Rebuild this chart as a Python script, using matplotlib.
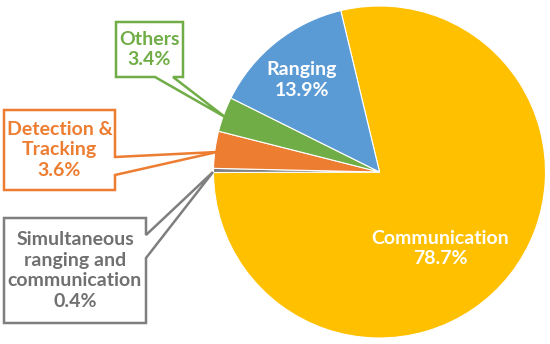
import matplotlib
matplotlib.use('Agg')
import matplotlib.pyplot as plt
from matplotlib.patches import Polygon

# slices, clockwise from the top
categories = ['Communication', 'Simultaneous\nranging and\ncommunication',
              'Detection &\nTracking', 'Others', 'Ranging']
shares = [78.7, 0.4, 3.6, 3.4, 13.9]
colors = ['#FFC000', '#7F7F7F', '#ED7D31', '#70AD47', '#5B9BD5']
text_colors = ['white', '#707070', '#ED7D31', '#70AD47', 'white']

plt.rcParams['font.family'] = ['Lato', 'DejaVu Sans']
FS = 14

fig = plt.figure(figsize=(5.5, 3.44), dpi=100)
ax = fig.add_axes([0, 0, 1, 1])

H = 344
ax.pie(shares, colors=colors, startangle=103.5, counterclock=False,
       center=(379.5, H - 172), radius=166, frame=True,
       wedgeprops=dict(edgecolor='white', linewidth=0.8))
ax.set_xlim(0, 550)
ax.set_ylim(0, 344)
ax.set_aspect('equal')
ax.axis('off')

labels = [f'{c}\n{v}%' for c, v in zip(categories, shares)]

# inside labels
ax.text(440, H - 248.5, labels[0], color=text_colors[0], ha='center', va='center',
        fontsize=FS, fontweight='bold', linespacing=1.25)
ax.text(302, H - 80, labels[4], color=text_colors[4], ha='center', va='center',
        fontsize=FS, fontweight='bold', linespacing=1.25)

# callout boxes: box corners, pointer base on an edge, pointer tip
def callout(x0, y0, x1, y1, edge, p0, p1, tip, color):
    if edge == 'bottom':
        pts = [(x0, y0), (x1, y0), (x1, y1), (p1, y1), tip, (p0, y1), (x0, y1)]
    else:  # right edge
        pts = [(x0, y0), (x1, y0), (x1, p0), tip, (x1, p1), (x1, y1), (x0, y1)]
    pts = [(x, H - y) for x, y in pts]
    ax.add_patch(Polygon(pts, closed=True, facecolor='white', edgecolor=color,
                         linewidth=1.8, zorder=5))

callout(116, 22, 183, 77, 'bottom', 155, 173, (225, 117), colors[3])
ax.text(149.5, H - 49.5, labels[3], color=text_colors[3], ha='center', va='center',
        fontsize=FS, fontweight='bold', linespacing=1.25, zorder=6)

callout(4, 110, 115, 190, 'right', 157, 175, (217, 152), colors[2])
ax.text(59.5, H - 150, labels[2], color=text_colors[2], ha='center', va='center',
        fontsize=FS, fontweight='bold', linespacing=1.25, zorder=6)

callout(4, 218, 146, 323, 'right', 235, 258, (213, 172), colors[1])
ax.text(75, H - 270.5, labels[1], color=text_colors[1], ha='center', va='center',
        fontsize=FS, fontweight='bold', linespacing=1.25, zorder=6)

fig.savefig('out.png', dpi=100)
